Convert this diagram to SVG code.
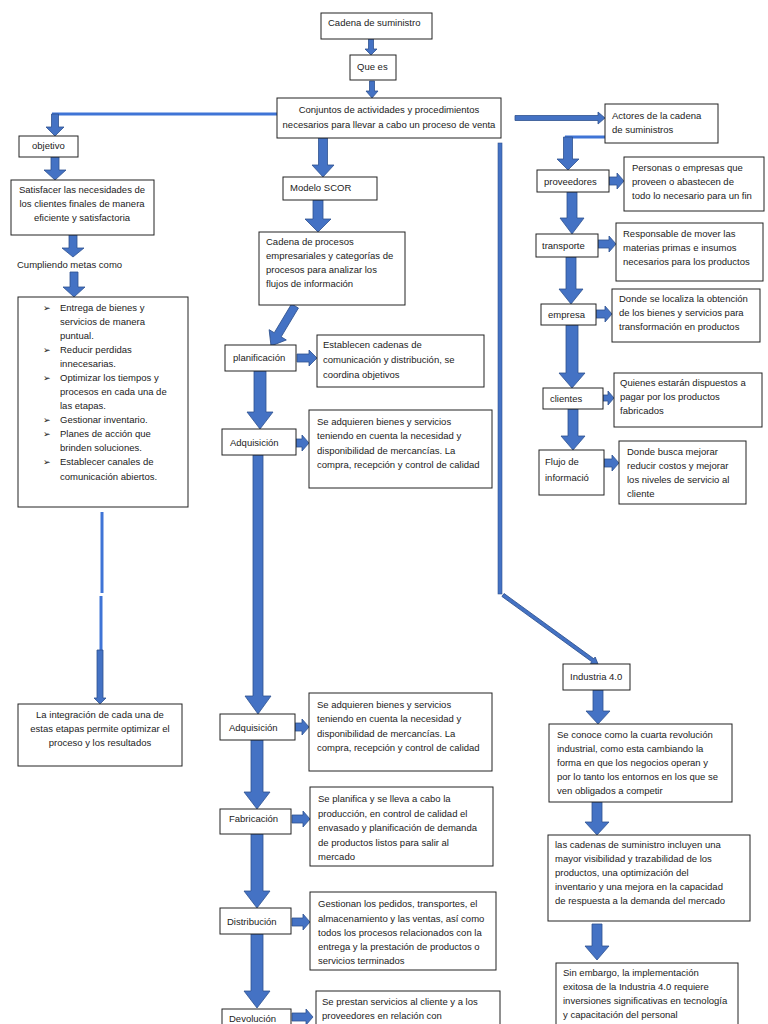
<svg xmlns="http://www.w3.org/2000/svg" width="768" height="1024" viewBox="0 0 768 1024">
<style>
rect.b{fill:#fff;stroke:#222;stroke-width:1}
text{font-family:"Liberation Sans",Arial,sans-serif;font-size:9.5px;fill:#222}
.m{text-anchor:middle}
text.blt{font-family:"DejaVu Sans",sans-serif;font-size:9px;fill:#111}
#connectors polygon{fill:#4472C4;stroke:#2F528F;stroke-width:0.8}
#connectors line.thin{stroke:#3F74D6;stroke-width:3}
</style>
<rect width="768" height="1024" fill="#fff"/>
<g id="connectors">
  <line class="thin" x1="277" y1="114" x2="52" y2="114"/>
  <line class="thin" x1="605" y1="137" x2="565" y2="137"/>
  <line class="thin" x1="102" y1="512" x2="102" y2="593"/>
  <line class="thin" x1="101" y1="596" x2="101" y2="650"/>
  <rect x="498" y="143" width="4" height="451" fill="#4472C4" stroke="#2F528F" stroke-width="0.6"/>
  <g transform="translate(503,595) rotate(36)"><polygon points="0,-1.8 111,-1.8 111,-4 117.4,0 111,4 111,1.8 0,1.8"/></g>
  <polygon points="368.5,39 373.5,39 373.5,49 377,49 371,55 365,49 368.5,49"/>
  <polygon points="369.5,81 374.5,81 374.5,91 378,91 372,98 366,91 369.5,91"/>
  <polygon points="318.5,138 327.5,138 327.5,165 334,165 323,177 312,165 318.5,165"/>
  <polygon points="51.5,114 58.5,114 58.5,127 64,127 55,136 46,127 51.5,127"/>
  <polygon points="51,157 59,157 59,170 66,170 55,180 44,170 51,170"/>
  <polygon points="69,235 77,235 77,248 84,248 73,257 62,248 69,248"/>
  <polygon points="70,272 78,272 78,287 85,287 74,297 63,287 70,287"/>
  <polygon points="97,650 103,650 103,698 106,698 100,704 94,698 97,698"/>
  <polygon points="313,200 323,200 323,219 331,219 318,232 305,219 313,219"/>
  <g transform="translate(295,306) rotate(120.96)"><polygon points="0,-4 33.6,-4 33.6,-10 46.6,0 33.6,10 33.6,4 0,4"/></g>
  <polygon points="254,371 266,371 266,412 273,412 260,429 247,412 254,412"/>
  <polygon points="253,455 263,455 263,696 271,696 258,714 245,696 253,696"/>
  <polygon points="251,740 263,740 263,792 270,792 257,809 244,792 251,792"/>
  <polygon points="251,834 263,834 263,891 270,891 257,908 244,891 251,891"/>
  <polygon points="251,934 263,934 263,991 270,991 257,1008 244,991 251,991"/>
  <polygon points="563.5,137 572.5,137 572.5,159 579,159 568,170 557,159 563.5,159"/>
  <polygon points="567,192 577,192 577,218 584,218 572,234 560,218 567,218"/>
  <polygon points="566,257 576,257 576,289 583,289 571,304 559,289 566,289"/>
  <polygon points="566,325 578,325 578,373 585,373 572,388 559,373 566,373"/>
  <polygon points="568,409 578,409 578,436 585,436 573,450 561,436 568,436"/>
  <polygon points="593,690 603,690 603,711 610,711 598,724 586,711 593,711"/>
  <polygon points="592,802 602,802 602,822 609,822 597,835 585,822 592,822"/>
  <polygon points="592,924 602,924 602,946 609,946 597,960 585,946 592,946"/>
  <polygon points="515,115.5 598,115.5 598,112 605,118 598,124 598,120.5 515,120.5"/>
  <polygon points="609,177 617,177 617,173 624,181 617,189 617,185 609,185"/>
  <polygon points="598,240 609,240 609,236 616,244 609,252 609,248 598,248"/>
  <polygon points="596,310 605,310 605,306 612,314 605,322 605,318 596,318"/>
  <polygon points="603,395 608,395 608,391 614,398 608,405 608,401 603,401"/>
  <polygon points="604,459 612,459 612,455 619,463 612,471 612,467 604,467"/>
  <polygon points="297,354 309,354 309,350 317,358 309,366 309,362 297,362"/>
  <polygon points="296,439 302,439 302,435 309,443 302,451 302,447 296,447"/>
  <polygon points="295,723 302,723 302,719 309,727 302,735 302,731 295,731"/>
  <polygon points="292,815 303,815 303,811 310,819 303,827 303,823 292,823"/>
  <polygon points="292,918 303,918 303,914 310,922 303,930 303,926 292,926"/>
  <polygon points="292,1013 306,1013 306,1009 313,1017 306,1025 306,1021 292,1021"/>
</g>
<g id="n1"><rect class="b" x="321" y="13" width="111" height="26"/><text x="328" y="26">Cadena de suministro</text></g>
<g id="n2"><rect class="b" x="350" y="55" width="46" height="25"/><text x="357" y="70">Que es</text></g>
<g id="n3"><rect class="b" x="277" y="98" width="224" height="40"/><text class="m" x="389" y="113">Conjuntos de actividades y procedimientos</text><text class="m" x="389" y="128">necesarios para llevar a cabo un proceso de venta</text></g>
<g id="n4"><rect class="b" x="605" y="104" width="113" height="39"/><text x="612" y="119">Actores de la cadena</text><text x="612" y="133">de suministros</text></g>
<g id="n5"><rect class="b" x="19" y="136" width="59" height="21"/><text x="32" y="149">objetivo</text></g>
<g id="n6"><rect class="b" x="11" y="180" width="143" height="55"/><text class="m" x="82" y="193">Satisfacer las necesidades de</text><text class="m" x="82" y="207">los clientes finales de manera</text><text class="m" x="82" y="221">eficiente y satisfactoria</text></g>
<g id="n7"><text x="17" y="268">Cumpliendo metas como</text></g>
<g id="n8"><rect class="b" x="18" y="297" width="170" height="210"/>
<text class="blt" x="43" y="311">➢</text><text x="60" y="311">Entrega de bienes y</text><text x="60" y="325">servicios de manera</text><text x="60" y="339">puntual.</text>
<text class="blt" x="43" y="353">➢</text><text x="60" y="353">Reducir perdidas</text><text x="60" y="367">innecesarias.</text>
<text class="blt" x="43" y="381">➢</text><text x="60" y="381">Optimizar los tiempos y</text><text x="60" y="395">procesos en cada una de</text><text x="60" y="409">las etapas.</text>
<text class="blt" x="43" y="423">➢</text><text x="60" y="423">Gestionar inventario.</text>
<text class="blt" x="43" y="437">➢</text><text x="60" y="437">Planes de acción que</text><text x="60" y="451">brinden soluciones.</text>
<text class="blt" x="43" y="465">➢</text><text x="60" y="465">Establecer canales de</text><text x="60" y="480">comunicación abiertos.</text></g>
<g id="n9"><rect class="b" x="18" y="704" width="164" height="62"/><text class="m" x="100" y="718">La integración de cada una de</text><text class="m" x="100" y="732">estas etapas permite optimizar el</text><text class="m" x="100" y="746">proceso y los resultados</text></g>
<g id="n10"><rect class="b" x="283" y="177" width="94" height="23"/><text x="290" y="191">Modelo SCOR</text></g>
<g id="n11"><rect class="b" x="259" y="232" width="146" height="73"/><text x="266" y="245">Cadena de procesos</text><text x="266" y="259">empresariales y categorías de</text><text x="266" y="273">procesos para analizar los</text><text x="266" y="287">flujos de información</text></g>
<g id="n12"><rect class="b" x="225" y="345" width="71" height="26"/><text x="233" y="361">planificación</text></g>
<g id="n13"><rect class="b" x="317" y="335" width="167" height="52"/><text x="323" y="348">Establecen cadenas de</text><text x="323" y="363">comunicación y distribución, se</text><text x="323" y="378">coordina objetivos</text></g>
<g id="n14"><rect class="b" x="222" y="429" width="74" height="26"/><text x="230" y="446">Adquisición</text></g>
<g id="n15"><rect class="b" x="309" y="410" width="183" height="78"/><text x="317" y="425">Se adquieren bienes y servicios</text><text x="317" y="439">teniendo en cuenta la necesidad y</text><text x="317" y="454">disponibilidad de mercancías. La</text><text x="317" y="468">compra, recepción y control de calidad</text></g>
<g id="n16"><rect class="b" x="220" y="714" width="75" height="26"/><text x="229" y="731">Adquisición</text></g>
<g id="n17"><rect class="b" x="309" y="693" width="183" height="78"/><text x="317" y="708">Se adquieren bienes y servicios</text><text x="317" y="722">teniendo en cuenta la necesidad y</text><text x="317" y="737">disponibilidad de mercancías. La</text><text x="317" y="751">compra, recepción y control de calidad</text></g>
<g id="n18"><rect class="b" x="220" y="809" width="71" height="25"/><text x="229" y="822">Fabricación</text></g>
<g id="n19"><rect class="b" x="310" y="787" width="183" height="79"/><text x="318" y="802">Se planifica y se lleva a cabo la</text><text x="318" y="817">producción, en control de calidad el</text><text x="318" y="831">envasado y planificación de demanda</text><text x="318" y="846">de productos listos para salir al</text><text x="318" y="860">mercado</text></g>
<g id="n20"><rect class="b" x="220" y="908" width="71" height="26"/><text x="227" y="925">Distribución</text></g>
<g id="n21"><rect class="b" x="310" y="892" width="186" height="78"/><text x="318" y="907">Gestionan los pedidos, transportes, el</text><text x="318" y="922">almacenamiento y las ventas, así como</text><text x="318" y="936">todos los procesos relacionados con la</text><text x="318" y="950">entrega y la prestación de productos o</text><text x="318" y="964">servicios terminados</text></g>
<g id="n22"><rect class="b" x="222" y="1009" width="69" height="22"/><text x="229" y="1022">Devolución</text></g>
<g id="n23"><rect class="b" x="316" y="991" width="184" height="40"/><text x="322" y="1005">Se prestan servicios al cliente y a los</text><text x="322" y="1019">proveedores en relación con</text></g>
<g id="n24"><rect class="b" x="537" y="170" width="72" height="22"/><text x="544" y="185">proveedores</text></g>
<g id="n25"><rect class="b" x="624" y="157" width="140" height="54"/><text x="632" y="171">Personas o empresas que</text><text x="632" y="185">proveen o abastecen de</text><text x="632" y="199">todo lo necesario para un fin</text></g>
<g id="n26"><rect class="b" x="536" y="234" width="62" height="23"/><text x="542" y="249">transporte</text></g>
<g id="n27"><rect class="b" x="616" y="223" width="147" height="58"/><text x="623" y="237">Responsable de mover las</text><text x="623" y="251">materias primas e insumos</text><text x="623" y="265">necesarios para los productos</text></g>
<g id="n28"><rect class="b" x="541" y="304" width="55" height="21"/><text x="548" y="318">empresa</text></g>
<g id="n29"><rect class="b" x="612" y="289" width="148" height="53"/><text x="619" y="302">Donde se localiza la obtención</text><text x="619" y="316">de los bienes y servicios para</text><text x="619" y="330">transformación en productos</text></g>
<g id="n30"><rect class="b" x="543" y="388" width="60" height="21"/><text x="550" y="402">clientes</text></g>
<g id="n31"><rect class="b" x="614" y="373" width="148" height="54"/><text x="620" y="386">Quienes estarán dispuestos a</text><text x="620" y="400">pagar por los productos</text><text x="620" y="414">fabricados</text></g>
<g id="n32"><rect class="b" x="539" y="450" width="65" height="45"/><text x="545" y="465">Flujo de</text><text x="545" y="481">informació</text></g>
<g id="n33"><rect class="b" x="619" y="441" width="127" height="63"/><text x="627" y="455">Donde busca mejorar</text><text x="627" y="469">reducir costos y mejorar</text><text x="627" y="483">los niveles de servicio al</text><text x="627" y="497">cliente</text></g>
<g id="n34"><rect class="b" x="563" y="664" width="67" height="26"/><text x="570" y="680">Industria 4.0</text></g>
<g id="n35"><rect class="b" x="549" y="724" width="183" height="78"/><text x="557" y="738">Se conoce como la cuarta revolución</text><text x="557" y="752">industrial, como esta cambiando la</text><text x="557" y="766">forma en que los negocios operan y</text><text x="557" y="780">por lo tanto los entornos en los que se</text><text x="557" y="794">ven obligados a competir</text></g>
<g id="n36"><rect class="b" x="548" y="835" width="202" height="86"/><text x="555" y="848">las cadenas de suministro incluyen una</text><text x="555" y="862">mayor visibilidad y trazabilidad de los</text><text x="555" y="876">productos, una optimización del</text><text x="555" y="890">inventario y una mejora en la capacidad</text><text x="555" y="904">de respuesta a la demanda del mercado</text></g>
<g id="n37"><rect class="b" x="556" y="963" width="182" height="70"/><text x="563" y="976">Sin embargo, la implementación</text><text x="563" y="990">exitosa de la Industria 4.0 requiere</text><text x="563" y="1004">inversiones significativas en tecnología</text><text x="563" y="1018">y capacitación del personal</text></g>
</svg>
